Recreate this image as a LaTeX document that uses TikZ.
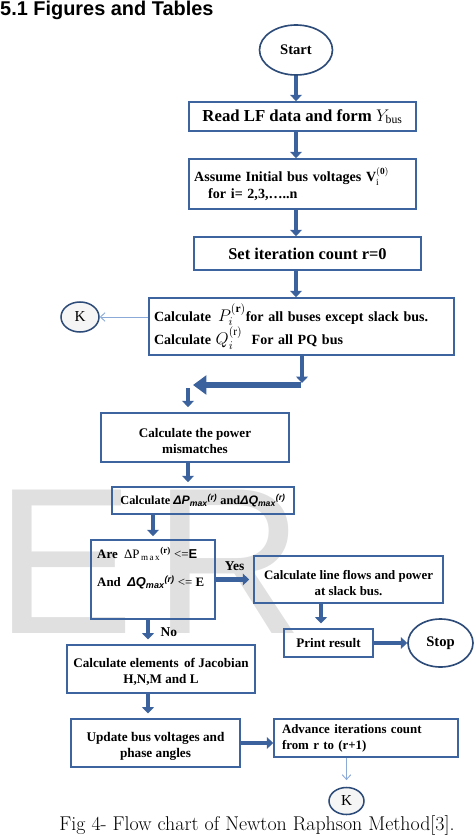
\documentclass[tikz,border=0pt]{standalone}
\usepackage{amsmath}
\usepackage{amssymb}
\usepackage{fontspec}
\setmainfont{Liberation Serif}
\newfontfamily\sans{Liberation Sans}
\newfontfamily\capfont{Latin Modern Roman}
\usepackage{tikz}
\usetikzlibrary{shapes,positioning,calc}
\usetikzlibrary{shapes.geometric}
\usetikzlibrary{arrows.meta}
\definecolor{boxblue}{RGB}{62,100,160}
\definecolor{ovalblue}{RGB}{45,75,120}
\definecolor{arrblue}{RGB}{60,98,158}
\definecolor{lightarr}{RGB}{140,170,215}
\definecolor{wmgray}{RGB}{224,224,224}
\tikzstyle{blocco} = [rectangle, draw=boxblue, line width=1.4pt, text centered, font=\bfseries]
\tikzstyle{terminale} = [ellipse, draw=ovalblue, line width=1.4pt, font=\bfseries\fontsize{12.5}{14}\selectfont]
\tikzstyle{connettore} = [ellipse, draw=ovalblue, line width=1.3pt, fill=gray!8, font=\fontsize{13}{15}\selectfont]
\tikzstyle{arrow} = [draw=arrblue, line width=3.6pt, -{Triangle[length=1.9mm,width=3.5mm]}]
\tikzstyle{bigarrow} = [draw=arrblue, line width=4.8pt, -{Triangle[length=4mm,width=5.6mm]}]
\tikzstyle{thinarrow} = [draw=lightarr, line width=0.8pt, -{Straight Barb[length=1.4mm,width=2.6mm]}]
\tikzstyle{etichetta} = [font=\bfseries\fontsize{11.5}{13}\selectfont]
\newcommand{\grande}[1]{{\fontsize{14}{14}\selectfont#1}}

\begin{document}
\begin{tikzpicture}[x=0.3mm,y=-0.3mm]
	\useasboundingbox (0,0) rectangle (474,838);
	\node[anchor=base west, inner sep=0pt, text=wmgray] (wme) at (-4.5,633) {\sans\fontsize{178}{178}\selectfont E};
	\node[anchor=base west, inner sep=0pt, text=wmgray] (wmr) at (153,633) {\sans\fontsize{178}{178}\selectfont R};
	\node[anchor=north west, inner sep=0pt] (title) at (0,1) {\sans\bfseries\fontsize{17}{19}\selectfont 5.1 Figures and Tables};

	\node (start) at (296,50) [terminale, minimum width=21.9mm, minimum height=15mm] {Start};
	\node (read) at (302.5,116.5) [blocco, minimum width=68.1mm, minimum height=8.7mm, font=\bfseries\fontsize{14.3}{16}\selectfont] {Read LF data and form $Y_{\mathrm{bus}}$};
	\node (assume) at (302.5,184) [blocco, minimum width=68.1mm, minimum height=15mm, text width=65mm, inner xsep=1.5mm, align=left, font=\bfseries\fontsize{12}{14}\selectfont] {Assume Initial bus voltages V$_{\mathrm{i}}^{\mathbf{(0)}}$\\ \quad for i= 2,3,…..n};
	\node (set) at (307.5,253.5) [blocco, minimum width=68.1mm, minimum height=9.9mm, font=\bfseries\fontsize{14}{16}\selectfont] {Set iteration count r=0};
	\node (calcpq) at (301.5,326.5) [blocco, minimum width=91.5mm, minimum height=17.1mm, text width=88.5mm, inner xsep=1.5mm, align=left, font=\bfseries\fontsize{12}{13.5}\selectfont] {Calculate \,\grande{$P_i^{(\mathbf{r})}$}for all buses except slack bus.\\ Calculate \grande{$Q_i^{(\mathrm{r})}$} \ For all PQ bus\\[-1.5mm]};
	\node (kleft) at (80,317) [connettore, minimum width=11.4mm, minimum height=9mm] {K};

	\coordinate (j1) at (302,385);
	\coordinate (j2) at (193,385);
	\coordinate (j3) at (188,388);

	\node (mismatch) at (195,437.5) [blocco, minimum width=56.4mm, minimum height=14.7mm, inner ysep=0pt, font=\bfseries\fontsize{11.2}{13.6}\selectfont, align=center] {\mbox{}\\ Calculate the power\\ mismatches};
	\node (dmax) at (203,500.5) [blocco, minimum width=54.6mm, minimum height=8.1mm, font=\bfseries\fontsize{10.5}{13}\selectfont] {Calculate {\sans\itshape ΔP\textsubscript{max}\textsuperscript{(r)}} and{\sans\itshape ΔQ\textsubscript{max}\textsuperscript{(r)}}};
	\node (decision) at (153,579.5) [blocco, minimum width=37.2mm, minimum height=23.7mm] {};
	\node (dectext) at (97,547) [anchor=north west, inner sep=0pt, align=left, font=\fontsize{11}{13}\selectfont] {{\bfseries Are}\enspace ΔP\textsubscript{\,m\,a\,x}\textsuperscript{\bfseries(r)} <={\sans\bfseries E}\\[4mm] {\bfseries And}\enspace {\sans\bfseries\itshape ΔQ\textsubscript{max}\textsuperscript{(r)}} <= {\bfseries E}};
	\node (flows) at (348.5,579.5) [blocco, minimum width=56.7mm, minimum height=14.1mm, inner ysep=0pt, font=\bfseries\fontsize{11}{13.6}\selectfont, align=center] {\mbox{}\\ Calculate line flows and power\\ at slack bus.};
	\node (print) at (328.5,643) [blocco, minimum width=26.7mm, minimum height=8.4mm, font=\bfseries\fontsize{11.2}{13}\selectfont] {Print result};
	\node (stop) at (440.5,643) [terminale, minimum width=19.5mm, minimum height=14.4mm] {Stop};
	\node (jacobian) at (161,669) [blocco, minimum width=56.4mm, minimum height=14.4mm, inner ysep=0pt, font=\bfseries\fontsize{11.2}{13.6}\selectfont, align=center] {\mbox{}\\ Calculate elements \,of Jacobian\\ H,N,M and L};
	\node (update) at (155.5,743) [blocco, minimum width=50.7mm, minimum height=14.4mm, inner ysep=0pt, font=\bfseries\fontsize{11.3}{13.6}\selectfont, align=center] {\mbox{}\\ Update bus voltages and\\ phase angles};
	\node (advance) at (366,738) [blocco, minimum width=55.2mm, minimum height=11.4mm, text width=50.4mm, inner xsep=2.4mm, align=left, font=\bfseries\fontsize{11}{13.6}\selectfont] {Advance iterations count\\ from r to (r+1)};
	\node (kbot) at (346.5,801) [connettore, minimum width=10.5mm, minimum height=8.1mm] {K};
	\node (caption) at (257,826) {\capfont\fontsize{17}{19}\selectfont Fig 4- Flow chart of Newton Raphson Method[3].};

	\draw[arrow] (start.south -| start) -- (read.north -| start);
	\draw[arrow] (read.south -| start) -- (assume.north -| start);
	\draw[arrow] (assume.south -| start) -- (set.north -| start);
	\draw[arrow] (set.south -| start) -- (calcpq.north -| start);
	\draw[thinarrow] (kleft -| calcpq.west) -- (kleft.east);
	\draw[arrow] (calcpq.south -| j1) -- ($(j1)+(0,-2)$);
	\draw[bigarrow] ($(j1)+(-1,0)$) -- (j2);
	\draw[arrow, shorten >=1.5mm] (j3) -- (mismatch.north -| j3);
	\draw[arrow, shorten >=1.2mm] (mismatch.south -| j3) -- (dmax.north -| j3);
	\draw[arrow, shorten >=0.9mm] (dmax.south -| decision) -- (decision.north);
	\draw[arrow, shorten >=1.2mm] (decision.east) -- (flows.west) node[midway, above=1mm, etichetta] {Yes};
	\draw[arrow, shorten >=1.4mm] ($(flows.south)+(-27.5,0)$) -- ($(print.north)+(-7.5,0)$);
	\draw[arrow] (print.east) -- (stop.west);
	\draw[arrow, shorten >=1.4mm] ($(decision.south)+(-5,0)$) -- ($(jacobian.north)+(-13,0)$) node[midway, right=2mm, etichetta] {No};
	\draw[arrow, shorten >=1.4mm] ($(jacobian.south)+(-13,0)$) -- ($(update.north)+(-7.5,0)$);
	\draw[arrow] (update.east) -- (update.east -| advance.west);
	\draw[thinarrow, shorten >=2mm] (advance.south -| kbot) -- (kbot.north);
\end{tikzpicture}
\end{document}
